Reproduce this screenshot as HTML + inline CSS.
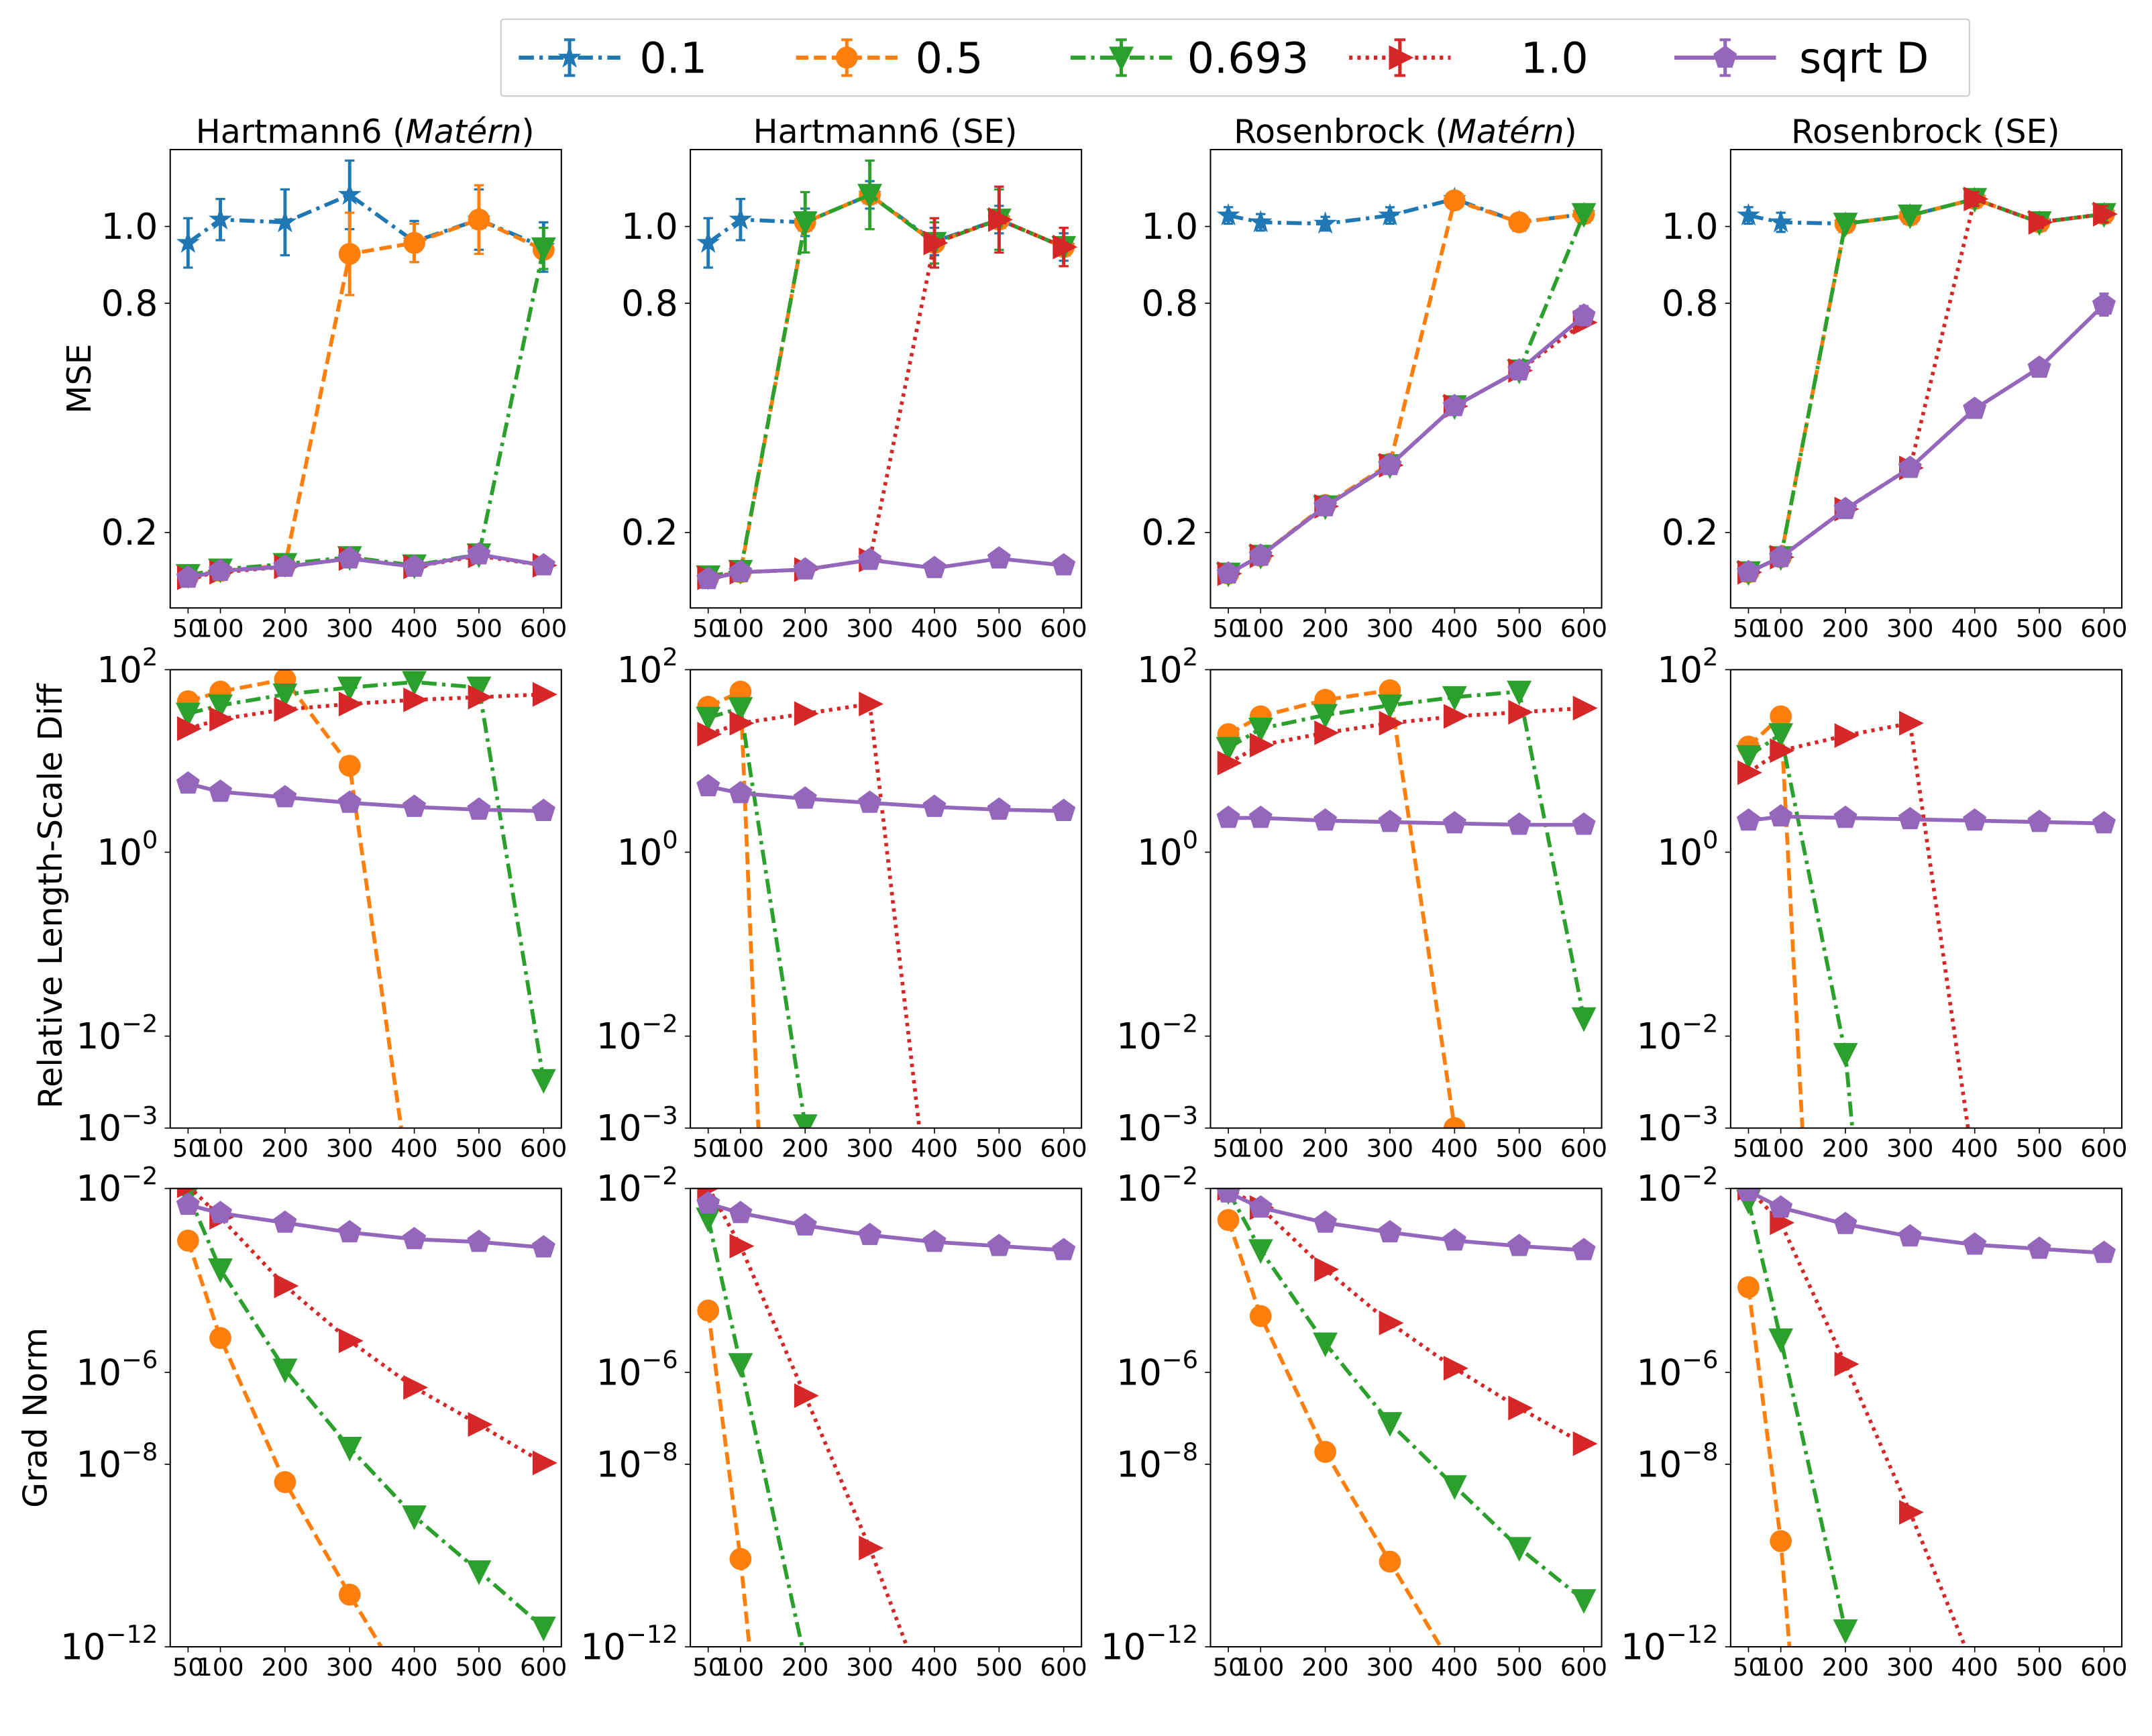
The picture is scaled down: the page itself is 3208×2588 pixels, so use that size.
<!DOCTYPE html>
<html><head><meta charset="utf-8"><style>
html,body{margin:0;padding:0;background:#fff;overflow:hidden;width:3208px;height:2588px;}
svg{display:block;}
text{font-family:"DejaVu Sans","Liberation Sans",sans-serif;fill:#000;}
</style></head><body>
<svg id="s" xmlns="http://www.w3.org/2000/svg" width="3208" height="2588" viewBox="0 0 1568 1265">
<rect x="0" y="0" width="1568" height="1265" fill="#fff"/>
<defs></defs>
<g id="plots"></g>
<g id="frames"></g>
<!-- legend -->
<rect x="365" y="14" width="1070" height="56" fill="#fff" stroke="#ccc" stroke-width="1" rx="2"/>
<g id="leg"></g>
<g font-size="31">
<text x="466" y="53">0.1</text>
<text x="667" y="53">0.5</text>
<text x="865" y="53">0.693</text>
<text x="1108" y="53">1.0</text>
<text x="1311" y="53">sqrt D</text>
</g>
<!-- titles -->
<g font-size="24" text-anchor="middle">
<text x="266" y="104">Hartmann6 (<tspan font-style="italic">Matérn</tspan>)</text>
<text x="645" y="104">Hartmann6 (SE)</text>
<text x="1024" y="104">Rosenbrock (<tspan font-style="italic">Matérn</tspan>)</text>
<text x="1403" y="104">Rosenbrock (SE)</text>
</g>
<!-- y labels -->
<g font-size="24" text-anchor="middle">
<text transform="translate(66,276) rotate(-90)">MSE</text>
<text transform="translate(45,653) rotate(-90)">Relative Length-Scale Diff</text>
<text transform="translate(34,1033) rotate(-90)">Grad Norm</text>
</g>
<!-- row1 y tick labels -->
<g font-size="26" text-anchor="end">
<text x="115" y="174">1.0</text><text x="115" y="230">0.8</text><text x="115" y="397">0.2</text>
<text x="494" y="174">1.0</text><text x="494" y="230">0.8</text><text x="494" y="397">0.2</text>
<text x="873" y="174">1.0</text><text x="873" y="230">0.8</text><text x="873" y="397">0.2</text>
<text x="1252" y="174">1.0</text><text x="1252" y="230">0.8</text><text x="1252" y="397">0.2</text>
</g>
<!-- row2 y tick labels -->
<g font-size="26" text-anchor="end">
<text x="115" y="497">10<tspan font-size="18" dy="-12">2</tspan></text>
<text x="115" y="630">10<tspan font-size="18" dy="-12">0</tspan></text>
<text x="115" y="764">10<tspan font-size="18" dy="-12">−2</tspan></text>
<text x="115" y="831">10<tspan font-size="18" dy="-12">−3</tspan></text>
<text x="494" y="497">10<tspan font-size="18" dy="-12">2</tspan></text>
<text x="494" y="630">10<tspan font-size="18" dy="-12">0</tspan></text>
<text x="494" y="764">10<tspan font-size="18" dy="-12">−2</tspan></text>
<text x="494" y="831">10<tspan font-size="18" dy="-12">−3</tspan></text>
<text x="873" y="497">10<tspan font-size="18" dy="-12">2</tspan></text>
<text x="873" y="630">10<tspan font-size="18" dy="-12">0</tspan></text>
<text x="873" y="764">10<tspan font-size="18" dy="-12">−2</tspan></text>
<text x="873" y="831">10<tspan font-size="18" dy="-12">−3</tspan></text>
<text x="1252" y="497">10<tspan font-size="18" dy="-12">2</tspan></text>
<text x="1252" y="630">10<tspan font-size="18" dy="-12">0</tspan></text>
<text x="1252" y="764">10<tspan font-size="18" dy="-12">−2</tspan></text>
<text x="1252" y="831">10<tspan font-size="18" dy="-12">−3</tspan></text>
</g>
<!-- row3 y tick labels -->
<g font-size="26" text-anchor="end">
<text x="115" y="875">10<tspan font-size="18" dy="-12">−2</tspan></text>
<text x="115" y="1009">10<tspan font-size="18" dy="-12">−6</tspan></text>
<text x="115" y="1076">10<tspan font-size="18" dy="-12">−8</tspan></text>
<text x="115" y="1209">10<tspan font-size="18" dy="-12">−12</tspan></text>
<text x="494" y="875">10<tspan font-size="18" dy="-12">−2</tspan></text>
<text x="494" y="1009">10<tspan font-size="18" dy="-12">−6</tspan></text>
<text x="494" y="1076">10<tspan font-size="18" dy="-12">−8</tspan></text>
<text x="494" y="1209">10<tspan font-size="18" dy="-12">−12</tspan></text>
<text x="873" y="875">10<tspan font-size="18" dy="-12">−2</tspan></text>
<text x="873" y="1009">10<tspan font-size="18" dy="-12">−6</tspan></text>
<text x="873" y="1076">10<tspan font-size="18" dy="-12">−8</tspan></text>
<text x="873" y="1209">10<tspan font-size="18" dy="-12">−12</tspan></text>
<text x="1252" y="875">10<tspan font-size="18" dy="-12">−2</tspan></text>
<text x="1252" y="1009">10<tspan font-size="18" dy="-12">−6</tspan></text>
<text x="1252" y="1076">10<tspan font-size="18" dy="-12">−8</tspan></text>
<text x="1252" y="1209">10<tspan font-size="18" dy="-12">−12</tspan></text>
</g>
<!-- x tick labels -->
<g font-size="18" text-anchor="middle">
<text x="137" y="464">50</text><text x="160.5" y="464">100</text><text x="207.6" y="464">200</text><text x="254.7" y="464">300</text><text x="301.8" y="464">400</text><text x="348.9" y="464">500</text><text x="396" y="464">600</text>
<text x="516" y="464">50</text><text x="539.5" y="464">100</text><text x="586.6" y="464">200</text><text x="633.7" y="464">300</text><text x="680.8" y="464">400</text><text x="727.9" y="464">500</text><text x="775" y="464">600</text>
<text x="895" y="464">50</text><text x="918.5" y="464">100</text><text x="965.6" y="464">200</text><text x="1012.7" y="464">300</text><text x="1059.8" y="464">400</text><text x="1106.9" y="464">500</text><text x="1154" y="464">600</text>
<text x="1274" y="464">50</text><text x="1297.5" y="464">100</text><text x="1344.6" y="464">200</text><text x="1391.7" y="464">300</text><text x="1438.8" y="464">400</text><text x="1485.9" y="464">500</text><text x="1533" y="464">600</text>

<text x="137" y="843">50</text><text x="160.5" y="843">100</text><text x="207.6" y="843">200</text><text x="254.7" y="843">300</text><text x="301.8" y="843">400</text><text x="348.9" y="843">500</text><text x="396" y="843">600</text>
<text x="516" y="843">50</text><text x="539.5" y="843">100</text><text x="586.6" y="843">200</text><text x="633.7" y="843">300</text><text x="680.8" y="843">400</text><text x="727.9" y="843">500</text><text x="775" y="843">600</text>
<text x="895" y="843">50</text><text x="918.5" y="843">100</text><text x="965.6" y="843">200</text><text x="1012.7" y="843">300</text><text x="1059.8" y="843">400</text><text x="1106.9" y="843">500</text><text x="1154" y="843">600</text>
<text x="1274" y="843">50</text><text x="1297.5" y="843">100</text><text x="1344.6" y="843">200</text><text x="1391.7" y="843">300</text><text x="1438.8" y="843">400</text><text x="1485.9" y="843">500</text><text x="1533" y="843">600</text>

<text x="137" y="1221">50</text><text x="160.5" y="1221">100</text><text x="207.6" y="1221">200</text><text x="254.7" y="1221">300</text><text x="301.8" y="1221">400</text><text x="348.9" y="1221">500</text><text x="396" y="1221">600</text>
<text x="516" y="1221">50</text><text x="539.5" y="1221">100</text><text x="586.6" y="1221">200</text><text x="633.7" y="1221">300</text><text x="680.8" y="1221">400</text><text x="727.9" y="1221">500</text><text x="775" y="1221">600</text>
<text x="895" y="1221">50</text><text x="918.5" y="1221">100</text><text x="965.6" y="1221">200</text><text x="1012.7" y="1221">300</text><text x="1059.8" y="1221">400</text><text x="1106.9" y="1221">500</text><text x="1154" y="1221">600</text>
<text x="1274" y="1221">50</text><text x="1297.5" y="1221">100</text><text x="1344.6" y="1221">200</text><text x="1391.7" y="1221">300</text><text x="1438.8" y="1221">400</text><text x="1485.9" y="1221">500</text><text x="1533" y="1221">600</text>
</g>
</svg>
<script>
(function(){
var NS="http://www.w3.org/2000/svg";
var svg=document.getElementById('s');
var plots=document.getElementById('plots'),frames=document.getElementById('frames'),leg=document.getElementById('leg');
var defs=svg.querySelector('defs');
var cols=[124,503,882,1261],rows=[109,488,866],W=285,H=334;
var xs=[50,100,200,300,400,500,600];
function X(c,v){return cols[c]+13+(v-50)*0.471;}
function el(t,a,p){var e=document.createElementNS(NS,t);for(var k in a)e.setAttribute(k,a[k]);(p||plots).appendChild(e);return e;}
var LW=2.8;
var ST={
b:{c:"#1f77b4",d:"11,4,2.5,4",m:"star"},
o:{c:"#ff7f0e",d:"9,4",m:"circle"},
g:{c:"#2ca02c",d:"11,4,2.5,4",m:"tdown"},
r:{c:"#d62728",d:"2.5,3.5",m:"tright"},
p:{c:"#9467bd",d:"",m:"pent"}};
function marker(m,x,y,c,g){
 var pts=[],i,a;
 if(m=="circle"){el('circle',{cx:x,cy:y,r:8,fill:c},g);return;}
 if(m=="star"){for(i=0;i<10;i++){a=-Math.PI/2+i*Math.PI/5;var rr=i%2?3.5:9;pts.push((x+rr*Math.cos(a)).toFixed(2)+","+(y+rr*Math.sin(a)).toFixed(2));}}
 if(m=="tdown"){pts=[(x-9)+","+(y-8),(x+9)+","+(y-8),x+","+(y+10)];}
 if(m=="tright"){pts=[(x-8)+","+(y-9),(x-8)+","+(y+9),(x+10)+","+y];}
 if(m=="pent"){for(i=0;i<5;i++){a=-Math.PI/2+i*2*Math.PI/5;pts.push((x+9*Math.cos(a)).toFixed(2)+","+(y+9*Math.sin(a)).toFixed(2));}}
 el('polygon',{points:pts.join(" "),fill:c},g);
}
var D=[
[
{b:[177,160,162,142,176,160,180],bE:[18,15,24,25,15,22,18],
 o:[420,416,412,185,177,160,182],oE:[0,0,0,30,14,25,0],
 g:[419,415,411,406,412,404,181],gE:[0,0,0,0,0,0,15],
 r:[421,417,413,407,413,405,412],p:[421,416,413,407,413,404,412]},
{b:[177,160,162,142,176,160,180],bE:[18,15,10,10,10,10,10],
 o:[421,417,162,142,177,160,180],
 g:[420,416,162,142,177,160,180],gE:[0,0,22,25,15,22,14],
 r:[421,417,415,408,177,160,180],rE:[0,0,0,0,18,24,14],
 p:[422,417,415,408,414,407,412]},
{b:[157,162,163,157,145,162,156],bE:[6,6,5,6,5,4,5],
 o:[418,405,368,338,146,162,156],oE:[0,0,0,0,6,4,5],
 g:[418,405,369,339,296,270,156],
 r:[418,405,369,339,296,270,235],p:[418,405,369,339,296,270,230],pE:[3,3,3,3,3,5,7]},
{b:[157,162,163,157,145,162,156],bE:[6,7,5,5,5,4,5],
 o:[417,406,163,157,145,162,156],
 g:[417,406,163,157,145,162,156],
 r:[417,406,371,341,145,162,156],rE:[0,0,0,0,5,4,6],
 p:[417,406,371,341,298,268,222],pE:[3,3,3,3,3,6,8]}
],
[
{o:[511,504,495,558,889,null,null],g:[520,514,506,501,497,501,787],r:[531,524,517,513,510,508,506],p:[571,577,581,585,588,590,591]},
{o:[515,504,1655,null,null,null,null],g:[523,516,820,null,null,null,null],r:[535,527,520,513,916,null,null],p:[573,578,582,585,588,590,591]},
{o:[535,522,510,503,822,null,null],g:[545,531,521,514,508,504,742],r:[556,543,534,527,522,519,516],p:[596,596,598,599,600,601,601]},
{o:[544,522,1422,null,null,null,null],g:[551,535,768,1275,null,null,null],r:[563,547,536,527,856,null,null],p:[598,595,596,597,598,599,600]}
],
[
{o:[904,975,1080,1162,1240,null,null],g:[870,925,998,1055,1105,1145,1186],r:[864,887,937,977,1011,1038,1066],p:[878,884,891,898,903,905,909]},
{o:[955,1136,1600,null,null,null,null],g:[888,994,1210,null,null,null,null],r:[865,908,1017,1128,1253,null,null],p:[877,884,893,900,905,908,911]},
{o:[889,959,1058,1138,1217,null,null],g:[868,911,979,1037,1083,1128,1166],r:[866,880,925,964,997,1026,1052],p:[869,880,891,898,904,908,911]},
{o:[938,1123,1700,null,null,null,null],g:[875,976,1188,null,null,null,null],r:[866,891,994,1102,1217,null,null],p:[868,880,892,901,907,910,913]}
]];
var ticksY=[[165,221,388],[488,621,755,822],[866,1000,1067,1200]];
for(var ri=0;ri<3;ri++)for(var ci=0;ci<4;ci++){
 var id="cl"+ri+"_"+ci;
 var cp=el('clipPath',{id:id},defs);el('rect',{x:cols[ci],y:rows[ri],width:W,height:H},cp);
 var g=el('g',{"clip-path":"url(#"+id+")"});
 var d=D[ri][ci];
 ["b","o","g","r","p"].forEach(function(k){
  if(!d[k])return;var s=ST[k],ys=d[k],pts=[];
  for(var i=0;i<7;i++)if(ys[i]!=null)pts.push(X(ci,xs[i]).toFixed(2)+","+ys[i]);
  var a={points:pts.join(" "),fill:"none",stroke:s.c,"stroke-width":LW,"stroke-linejoin":"round"};
  if(s.d)a["stroke-dasharray"]=s.d;
  el('polyline',a,g);
  var E=d[k+"E"];
  for(var i=0;i<7;i++){if(ys[i]==null)continue;var x=X(ci,xs[i]);
   if(E&&E[i]){el('line',{x1:x,x2:x,y1:ys[i]-E[i],y2:ys[i]+E[i],stroke:s.c,"stroke-width":2.4},g);
    el('line',{x1:x-3.5,x2:x+3.5,y1:ys[i]-E[i],y2:ys[i]-E[i],stroke:s.c,"stroke-width":1.6},g);
    el('line',{x1:x-3.5,x2:x+3.5,y1:ys[i]+E[i],y2:ys[i]+E[i],stroke:s.c,"stroke-width":1.6},g);}
   marker(s.m,x,ys[i],s.c,g);}
 });
 el('rect',{x:cols[ci],y:rows[ri],width:W,height:H,fill:"none",stroke:"#000","stroke-width":1},frames);
 xs.forEach(function(v){var x=X(ci,v);el('line',{x1:x,x2:x,y1:rows[ri]+H,y2:rows[ri]+H+4,stroke:"#000","stroke-width":0.8},frames);});
 ticksY[ri].forEach(function(y){el('line',{x1:cols[ci]-4,x2:cols[ci],y1:y,y2:y,stroke:"#000","stroke-width":0.8},frames);});
}
var L=[["b",378],["o",580],["g",780],["r",983],["p",1220]];
L.forEach(function(q){var s=ST[q[0]],x0=q[1],x1=x0+74,y=42,xm=(x0+x1)/2;
 var a={x1:x0,x2:x1,y1:y,y2:y,stroke:s.c,"stroke-width":3};if(s.d)a["stroke-dasharray"]=s.d;el('line',a,leg);
 el('line',{x1:xm,x2:xm,y1:y-13,y2:y+13,stroke:s.c,"stroke-width":2.5},leg);
 el('line',{x1:xm-4,x2:xm+4,y1:y-13,y2:y-13,stroke:s.c,"stroke-width":2},leg);
 el('line',{x1:xm-4,x2:xm+4,y1:y+13,y2:y+13,stroke:s.c,"stroke-width":2},leg);
 marker(s.m,xm,y,s.c,leg);});
})();
</script>
</body></html>
